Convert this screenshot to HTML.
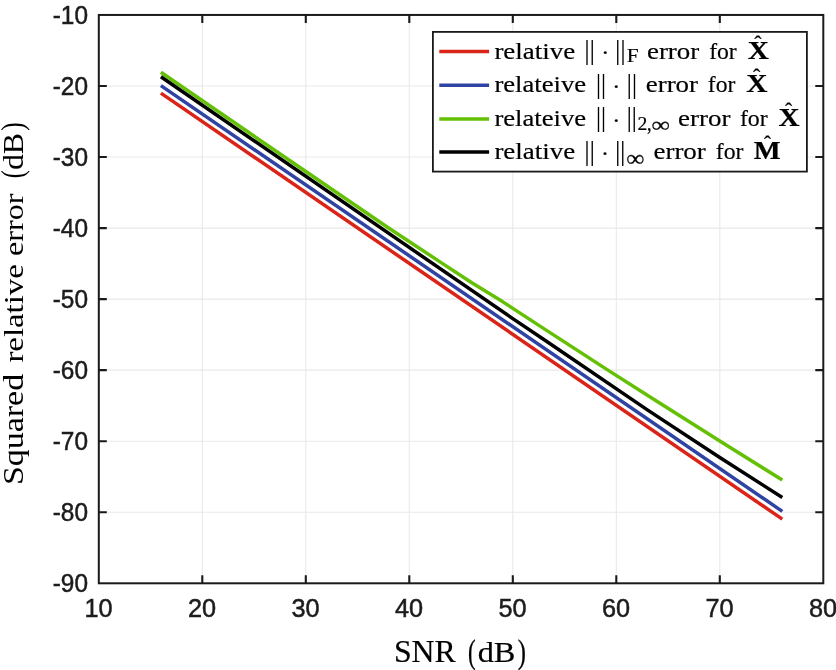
<!DOCTYPE html>
<html lang="en"><head><meta charset="utf-8"><title>Squared relative error vs SNR</title><style>html,body{margin:0;padding:0;background:#fff;overflow:hidden}svg{display:block}.t{font-family:"Liberation Sans",sans-serif;font-size:25.7px;fill:#1c1c1c;stroke:#1c1c1c;stroke-width:0.5px}.s{font-family:"Liberation Serif",serif;fill:#000;stroke:#000;stroke-width:0.18px}</style></head><body>
<svg width="836" height="670" viewBox="0 0 836 670">
<rect x="0" y="0" width="836" height="670" fill="#fff"/>
<path d="M202.30 14.95 V583.3 M305.80 14.95 V583.3 M409.30 14.95 V583.3 M512.80 14.95 V583.3 M616.30 14.95 V583.3 M719.80 14.95 V583.3 M98.8 512.26 H823.3 M98.8 441.21 H823.3 M98.8 370.17 H823.3 M98.8 299.12 H823.3 M98.8 228.08 H823.3 M98.8 157.04 H823.3 M98.8 85.99 H823.3" stroke="#262626" stroke-opacity="0.105" stroke-width="1.1" fill="none"/>
<polyline points="160.90,93.10 782.31,519.15" fill="none" stroke="#da2418" stroke-width="3.5" stroke-linejoin="round"/>
<polyline points="160.90,85.64 782.31,511.33" fill="none" stroke="#2f43a3" stroke-width="3.5" stroke-linejoin="round"/>
<polyline points="160.90,72.28 305.80,171.53 388.60,228.01 440.35,262.11 471.40,282.57 502.45,301.61 543.85,328.61 605.95,368.89 647.35,395.18 719.80,441.00 782.31,480.00" fill="none" stroke="#64c004" stroke-width="3.5" stroke-linejoin="round"/>
<polyline points="160.90,76.69 512.80,318.59 543.85,339.55 647.35,409.88 719.80,457.48 782.31,497.48" fill="none" stroke="#000000" stroke-width="3.5" stroke-linejoin="round"/>
<path d="M202.30 583.3 v-8 M202.30 14.95 v8 M305.80 583.3 v-8 M305.80 14.95 v8 M409.30 583.3 v-8 M409.30 14.95 v8 M512.80 583.3 v-8 M512.80 14.95 v8 M616.30 583.3 v-8 M616.30 14.95 v8 M719.80 583.3 v-8 M719.80 14.95 v8 M98.8 512.26 h8 M823.3 512.26 h-8 M98.8 441.21 h8 M823.3 441.21 h-8 M98.8 370.17 h8 M823.3 370.17 h-8 M98.8 299.12 h8 M823.3 299.12 h-8 M98.8 228.08 h8 M823.3 228.08 h-8 M98.8 157.04 h8 M823.3 157.04 h-8 M98.8 85.99 h8 M823.3 85.99 h-8" stroke="#1a1a1a" stroke-width="2.1" fill="none"/>
<rect x="98.8" y="14.95" width="724.50" height="568.35" fill="none" stroke="#1a1a1a" stroke-width="2"/>
<g class="t">
<text transform="translate(98.60 616.9) scale(0.985 1)" text-anchor="middle">10</text>
<text transform="translate(202.10 616.9) scale(0.985 1)" text-anchor="middle">20</text>
<text transform="translate(305.60 616.9) scale(0.985 1)" text-anchor="middle">30</text>
<text transform="translate(409.10 616.9) scale(0.985 1)" text-anchor="middle">40</text>
<text transform="translate(512.60 616.9) scale(0.985 1)" text-anchor="middle">50</text>
<text transform="translate(616.10 616.9) scale(0.985 1)" text-anchor="middle">60</text>
<text transform="translate(719.60 616.9) scale(0.985 1)" text-anchor="middle">70</text>
<text transform="translate(823.10 616.9) scale(0.985 1)" text-anchor="middle">80</text>
<text transform="translate(88.0 592.40) scale(0.95 1)" text-anchor="end">-90</text>
<text transform="translate(88.0 521.36) scale(0.95 1)" text-anchor="end">-80</text>
<text transform="translate(88.0 450.31) scale(0.95 1)" text-anchor="end">-70</text>
<text transform="translate(88.0 379.27) scale(0.95 1)" text-anchor="end">-60</text>
<text transform="translate(88.0 308.22) scale(0.95 1)" text-anchor="end">-50</text>
<text transform="translate(88.0 237.18) scale(0.95 1)" text-anchor="end">-40</text>
<text transform="translate(88.0 166.14) scale(0.95 1)" text-anchor="end">-30</text>
<text transform="translate(88.0 95.09) scale(0.95 1)" text-anchor="end">-20</text>
<text transform="translate(88.0 24.05) scale(0.95 1)" text-anchor="end">-10</text>
</g>
<g class="s">
<text transform="translate(393.91 662.20) scale(1.0439 1.0000)" font-size="30.5">SNR</text>
<text transform="translate(468.08 662.63) scale(1.1556 1.6380)" font-size="20">(</text>
<text transform="translate(477.69 662.20) scale(1.0789 1.0000)" font-size="30.0">dB</text>
<text transform="translate(517.84 662.63) scale(1.2235 1.6380)" font-size="20">)</text>
<g stroke="none">
<text transform="rotate(-90) translate(-485.02 22.90) scale(1.1693 1.0000)" font-size="29.0">Squared</text>
<text transform="rotate(-90) translate(-362.61 22.90) scale(1.1726 1.0000)" font-size="28.0">relative</text>
<text transform="rotate(-90) translate(-255.90 22.90) scale(1.1463 1.0000)" font-size="28.0">error</text>
<text transform="rotate(-90) translate(-178.34 23.11) scale(1.1911 1.6217)" font-size="20">(</text>
<text transform="rotate(-90) translate(-170.10 22.90) scale(1.0636 1.0000)" font-size="30.0">dB</text>
<text transform="rotate(-90) translate(-130.69 23.11) scale(1.2612 1.6217)" font-size="20">)</text>
</g>
</g>
<rect x="432.9" y="31.9" width="374.0" height="139.7" fill="#fff" stroke="#1a1a1a" stroke-width="1.8"/>
<path d="M439.3 51.4 H489.1" stroke="#da2418" stroke-width="3.5" fill="none"/>
<path d="M439.3 85.2 H489.1" stroke="#2f43a3" stroke-width="3.5" fill="none"/>
<path d="M439.3 118.9 H489.1" stroke="#64c004" stroke-width="3.5" fill="none"/>
<path d="M439.3 151.9 H489.1" stroke="#000000" stroke-width="3.5" fill="none"/>
<g class="s">
<text transform="translate(494.38 58.70) scale(1.1245 1.0000)" font-size="24.0">relative</text>
<text font-size="27.4" stroke="none" x="584.26 589.56" y="58.80">||</text>
<text font-size="24" x="601.20" y="60.45">·</text>
<text font-size="27.4" stroke="none" x="614.96 620.16" y="58.80">||</text>
<text transform="translate(626.87 62.30) scale(1.0667 0.9295)" font-size="20">F</text>
<text transform="translate(646.96 58.70) scale(1.1210 1.0000)" font-size="24.0">error</text>
<text transform="translate(709.13 58.70) scale(0.9857 1.0000)" font-size="24.0">for</text>
<text transform="translate(747.64 58.70) scale(1.4649 1.2267)" font-size="20" font-weight="bold">X</text>
<text transform="translate(754.30 51.55) scale(1.0971 1.1055)" font-size="20">ˆ</text>
<text transform="translate(494.38 92.40) scale(1.1113 1.0000)" font-size="24.0">relateive</text>
<text font-size="27.4" stroke="none" x="595.76 600.76" y="92.50">||</text>
<text font-size="24" x="612.30" y="94.15">·</text>
<text font-size="27.4" stroke="none" x="626.56 631.66" y="92.50">||</text>
<text transform="translate(645.76 92.40) scale(1.1210 1.0000)" font-size="24.0">error</text>
<text transform="translate(707.83 92.40) scale(0.9857 1.0000)" font-size="24.0">for</text>
<text transform="translate(746.24 92.40) scale(1.4720 1.2267)" font-size="20" font-weight="bold">X</text>
<text transform="translate(753.00 85.25) scale(1.0971 1.1055)" font-size="20">ˆ</text>
<text transform="translate(494.38 126.10) scale(1.1113 1.0000)" font-size="24.0">relateive</text>
<text font-size="27.4" stroke="none" x="595.76 600.76" y="126.20">||</text>
<text font-size="24" x="612.30" y="127.85">·</text>
<text font-size="27.4" stroke="none" x="626.46 631.46" y="126.20">||</text>
<text transform="translate(637.49 129.80) scale(0.9837 0.9228)" font-size="20">2</text>
<text transform="translate(647.02 130.07) scale(0.9280 1.1294)" font-size="20">,</text>
<text transform="translate(651.39 132.06) scale(1.2952 1.1008)" font-size="20">∞</text>
<text transform="translate(678.06 126.10) scale(1.1232 1.0000)" font-size="24.0">error</text>
<text transform="translate(739.93 126.10) scale(0.9930 1.0000)" font-size="24.0">for</text>
<text transform="translate(778.44 126.10) scale(1.4578 1.2267)" font-size="20" font-weight="bold">X</text>
<text transform="translate(785.00 118.95) scale(1.0819 1.1345)" font-size="20">ˆ</text>
<text transform="translate(494.38 159.40) scale(1.1245 1.0000)" font-size="24.0">relative</text>
<text font-size="27.4" stroke="none" x="584.26 589.56" y="159.50">||</text>
<text font-size="24" x="601.00" y="161.15">·</text>
<text font-size="27.4" stroke="none" x="615.06 620.06" y="159.50">||</text>
<text transform="translate(626.30 166.02) scale(1.2800 1.1584)" font-size="20">∞</text>
<text transform="translate(653.46 159.40) scale(1.1232 1.0000)" font-size="24.0">error</text>
<text transform="translate(715.73 159.40) scale(0.9894 1.0000)" font-size="24.0">for</text>
<text transform="translate(753.86 159.20) scale(1.4234 1.2343)" font-size="20" font-weight="bold">M</text>
<text transform="translate(763.90 152.05) scale(1.0514 1.1055)" font-size="20">ˆ</text>
</g>
</svg></body></html>
